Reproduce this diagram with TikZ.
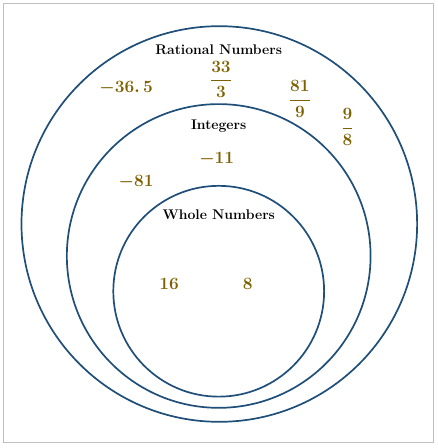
\documentclass[tikz,border=0pt]{standalone}
\usepackage{amsmath}
\usepackage{tikz}

\definecolor{setblue}{HTML}{1F4E79}
\definecolor{numgold}{HTML}{7F6000}

\tikzset{
	setline/.style={draw=setblue, line width=1.7pt},
	setname/.style={font=\fontsize{14}{16}\selectfont\bfseries, text=black},
	member/.style={font=\fontsize{17}{19}\selectfont\boldmath, text=numgold, inner sep=1pt}
}

\begin{document}
\begin{tikzpicture}[x=1pt,y=-1pt]
		\draw[white] (0,0) rectangle (437,448);
		\draw[black!25, line width=1pt] (3,3) rectangle (434,443);

		\draw[setline] (219.3,224) circle (198);
		\node[setname] (rational) at (218.7,49.3) {Rational Numbers};
		\node[member] (ra) at (126,88) {$-36.\,5$};
		\node[member] (rb) at (221,79.3) {$\dfrac{33}{3}$};
		\node[member] (rc) at (300,99) {$\dfrac{81}{9}$};
		\node[member] (rd) at (347.7,126.7) {$\dfrac{9}{8}$};

		\draw[setline] (218.7,256) circle (152);
		\node[setname] (integer) at (218.7,126) {Integers};
		\node[member] (ia) at (216.7,159) {$-11$};
		\node[member] (ib) at (136,181.7) {$-81$};

		\draw[setline] (218.7,291.3) circle (105.5);
		\node[setname] (whole) at (218.7,214.3) {Whole Numbers};
		\node[member] (wa) at (169,284) {$16$};
		\node[member] (wb) at (247.7,284) {$8$};
	\end{tikzpicture}
\end{document}
